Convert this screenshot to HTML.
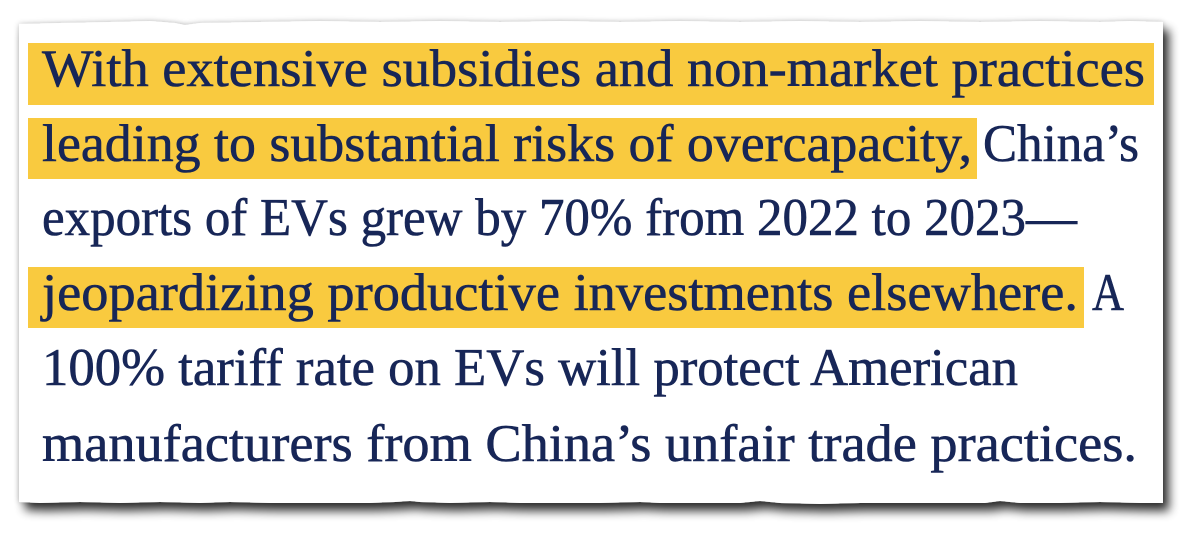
<!DOCTYPE html>
<html><head><meta charset="utf-8"><style>
html,body{margin:0;padding:0;background:#fff;}
svg{display:block;}
text{font-family:"Liberation Serif",serif;font-size:53px;fill:#172657;stroke:#172657;stroke-width:0.6px;}
</style></head><body>
<svg width="1200" height="542" viewBox="0 0 1200 542" xmlns="http://www.w3.org/2000/svg">
<defs>
<filter id="sh" x="-5%" y="-10%" width="110%" height="125%">
<feGaussianBlur in="SourceAlpha" stdDeviation="5" result="b"/>
<feOffset in="b" dx="6" dy="8" result="o"/>
<feComponentTransfer in="o" result="o2"><feFuncA type="linear" slope="0.8"/></feComponentTransfer>
<feGaussianBlur in="SourceAlpha" stdDeviation="3" result="b2"/>
<feComponentTransfer in="b2" result="o3"><feFuncA type="linear" slope="0.25"/></feComponentTransfer>
<feMerge><feMergeNode in="o3"/><feMergeNode in="o2"/><feMergeNode in="SourceGraphic"/></feMerge>
</filter>
</defs>
<path filter="url(#sh)" fill="#fff" d="M19,24 L60,23 L110,22 L150,21 L175,23 L185,25 L200,23 L260,22 L320,21 L380,22 L440,21 L500,22 L560,21 L620,22 L680,21 L740,22 L800,21 L860,22 L920,21 L980,22 L1040,21 L1100,22 L1130,21 L1163,22 L1163,503 L1140,503 L1100,502 L1060,503 L1020,503 L1000,501 L985,503 L940,503 L900,503 L860,503 L820,504 L780,503 L760,501 L740,503 L700,503 L660,503 L640,502 L600,503 L560,503 L520,503 L490,502 L450,503 L420,502 L410,501 L395,502 L370,503 L340,503 L310,503 L270,503 L230,502 L200,503 L160,502 L120,503 L80,502 L40,503 L19,502 Z"/>
<rect x="28" y="43" width="1126" height="62" fill="#f9ca3f"/>
<rect x="28" y="118" width="949" height="61" fill="#f9ca3f"/>
<rect x="28" y="267" width="1056" height="61" fill="#f9ca3f"/>
<text x="42" y="86" textLength="1103" lengthAdjust="spacingAndGlyphs">With extensive subsidies and non-market practices</text>
<text x="42" y="161" textLength="930" lengthAdjust="spacingAndGlyphs">leading to substantial risks of overcapacity,</text>
<text x="983" y="161" textLength="156" lengthAdjust="spacingAndGlyphs">China’s</text>
<text x="42" y="235" textLength="1035" lengthAdjust="spacingAndGlyphs">exports of EVs grew by 70% from 2022 to 2023—</text>
<text x="42" y="310" textLength="1036" lengthAdjust="spacingAndGlyphs">jeopardizing productive investments elsewhere.</text>
<text x="1092" y="310" textLength="32" lengthAdjust="spacingAndGlyphs">A</text>
<text x="42" y="385" textLength="976" lengthAdjust="spacingAndGlyphs">100% tariff rate on EVs will protect American</text>
<text x="42" y="461" textLength="1095" lengthAdjust="spacingAndGlyphs">manufacturers from China’s unfair trade practices.</text>
</svg>
</body></html>
